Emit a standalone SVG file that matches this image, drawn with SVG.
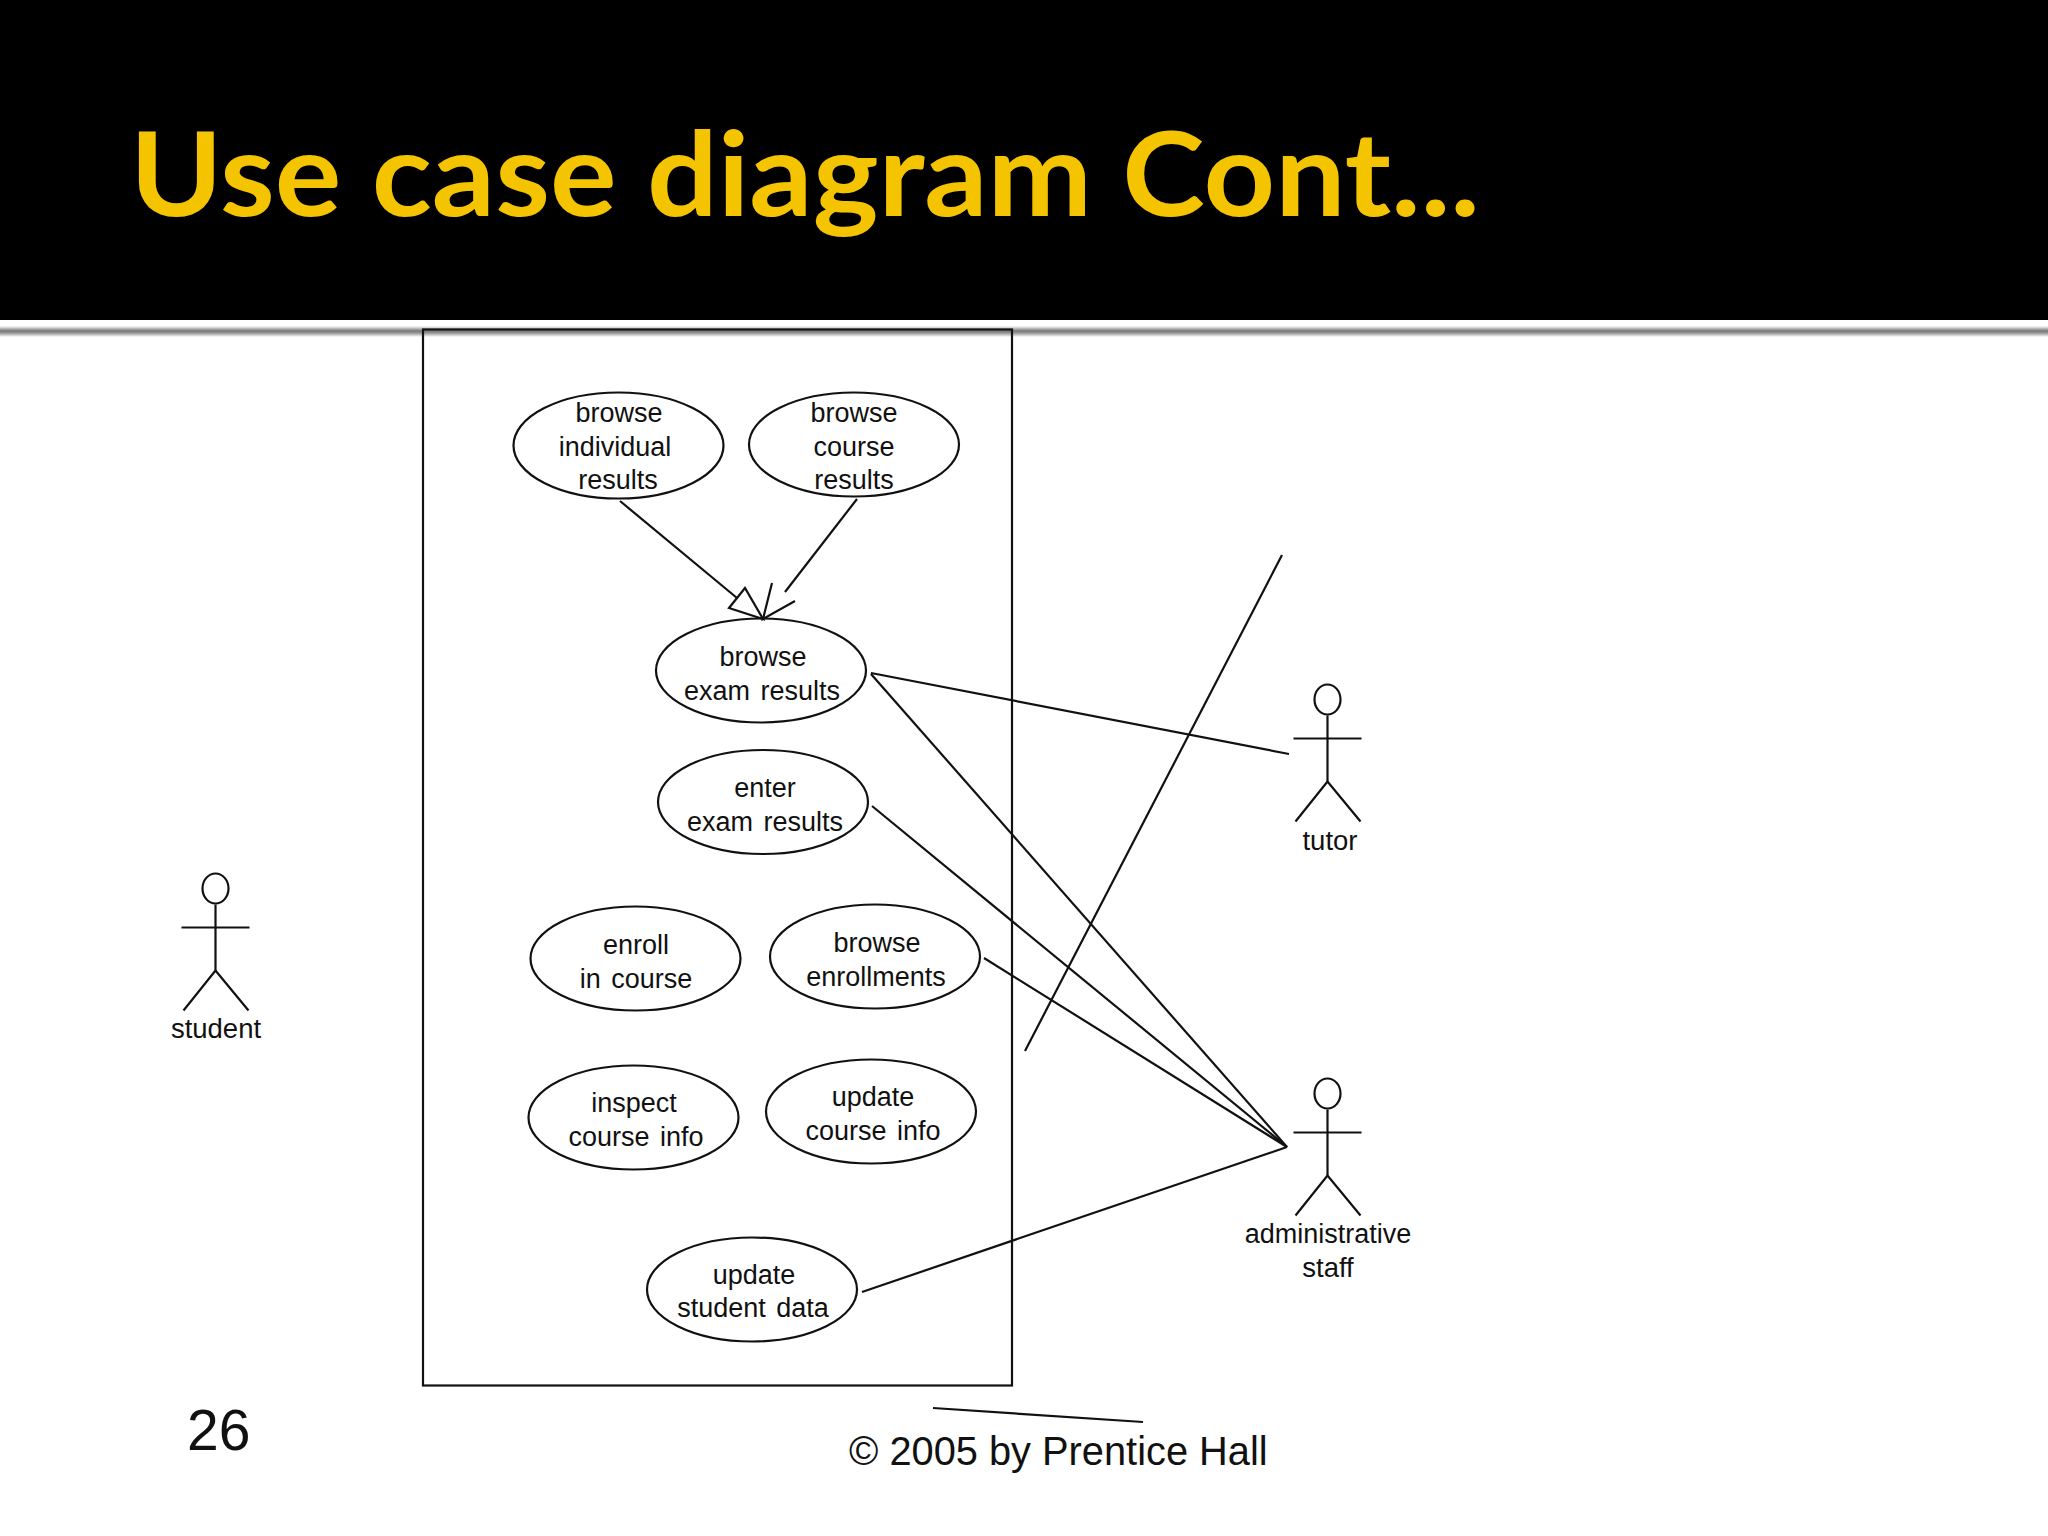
<svg xmlns="http://www.w3.org/2000/svg" width="2048" height="1536" viewBox="0 0 2048 1536">
<style>
text{font-family:"Liberation Sans",Arial,sans-serif;fill:#111}
.l{font-size:27px;text-anchor:middle;word-spacing:3px}
.s{fill:none;stroke:#111;stroke-width:2.2}
.u{fill:#fff;stroke:#111;stroke-width:2.2}
.c line,.c polyline,.c polygon{fill:none;stroke:#111;stroke-width:2.2}
</style>
<defs>
<linearGradient id="sh" x1="0" y1="0" x2="0" y2="1"><stop offset="0" stop-color="#fff"/><stop offset=".45" stop-color="#777"/><stop offset=".65" stop-color="#999"/><stop offset="1" stop-color="#fff"/></linearGradient>
<g id="actor"><ellipse cx="0" cy="0" rx="13" ry="15" class="u"/><polyline class="s" points="0,16 0,82"/><line class="s" x1="-34" y1="39" x2="34" y2="39"/><polyline class="s" points="-32,122 0,82 33,122"/></g>
</defs>
<rect width="2048" height="1536" fill="#fff"/>
<rect id="band" width="2048" height="320" fill="#000"/>
<rect y="326" width="2048" height="11" fill="url(#sh)"/>
<text id="title" x="130" y="216" textLength="1350" lengthAdjust="spacingAndGlyphs" style="font-family:Lato,'Open Sans',sans-serif;font-size:116px;font-weight:700;fill:#F5C400">Use case diagram Cont...</text>
<rect id="boundary" x="423" y="329.500" width="589" height="1056" class="s"/>
<g id="connectors" class="c">
<line x1="620" y1="501" x2="737" y2="598"/>
<polygon points="745,588 729,608 763,619"/>
<line x1="857" y1="499" x2="785" y2="592"/>
<polyline points="772,583 763,619 795,601"/>
<line x1="871" y1="673" x2="1289" y2="754"/>
<line x1="871" y1="674" x2="1287" y2="1147"/>
<line x1="872" y1="806" x2="1287" y2="1147"/>
<line x1="984" y1="958" x2="1287" y2="1147"/>
<line x1="862" y1="1292" x2="1287" y2="1147"/>
<line x1="1282" y1="555" x2="1025" y2="1051"/>
<line x1="933" y1="1408" x2="1143" y2="1422"/>
</g>
<g id="uc1"><ellipse cx="618.5" cy="445.500" rx="105" ry="53" class="s"/><text class="l" x="619" y="422">browse</text><text class="l" x="615" y="456">individual</text><text class="l" x="618" y="489">results</text></g>
<g id="uc2"><ellipse cx="854" cy="444.500" rx="105" ry="52" class="s"/><text class="l" x="854" y="422">browse</text><text class="l" x="854" y="456">course</text><text class="l" x="854" y="489">results</text></g>
<g id="uc3"><ellipse cx="761" cy="670.500" rx="105" ry="52" class="s"/><text class="l" x="763" y="666">browse</text><text class="l" x="762" y="700">exam results</text></g>
<g id="uc4"><ellipse cx="763" cy="802" rx="105" ry="52" class="s"/><text class="l" x="765" y="797">enter</text><text class="l" x="765" y="831">exam results</text></g>
<g id="uc5"><ellipse cx="635.5" cy="958.500" rx="105" ry="52" class="s"/><text class="l" x="636" y="954">enroll</text><text class="l" x="636" y="988">in course</text></g>
<g id="uc6"><ellipse cx="875" cy="956.500" rx="105" ry="52" class="s"/><text class="l" x="877" y="952">browse</text><text class="l" x="876" y="986">enrollments</text></g>
<g id="uc7"><ellipse cx="633.500" cy="1117.500" rx="105" ry="52" class="s"/><text class="l" x="634" y="1112">inspect</text><text class="l" x="636" y="1146">course info</text></g>
<g id="uc8"><ellipse cx="871" cy="1111.500" rx="105" ry="52" class="s"/><text class="l" x="873" y="1106">update</text><text class="l" x="873" y="1140">course info</text></g>
<g id="uc9"><ellipse cx="752" cy="1289.500" rx="105" ry="52" class="s"/><text class="l" x="754" y="1284">update</text><text class="l" x="753" y="1317">student data</text></g>
<g id="student"><use href="#actor" x="215.5" y="888.500"/><text class="l" x="216" y="1038" style="font-size:27.500px">student</text></g>
<g id="tutor"><use href="#actor" x="1327.500" y="699.500"/><text class="l" x="1330" y="850" style="font-size:27.500px">tutor</text></g>
<g id="admin"><use href="#actor" x="1327.500" y="1093.500"/><text class="l" x="1328" y="1243">administrative</text><text class="l" x="1328" y="1277" style="font-size:27.500px">staff</text></g>
<text id="page" x="187" y="1450" style="font-size:57px">26</text>
<text id="copy" x="849" y="1465" style="font-size:39.8px">© 2005 by Prentice Hall</text>
</svg>
